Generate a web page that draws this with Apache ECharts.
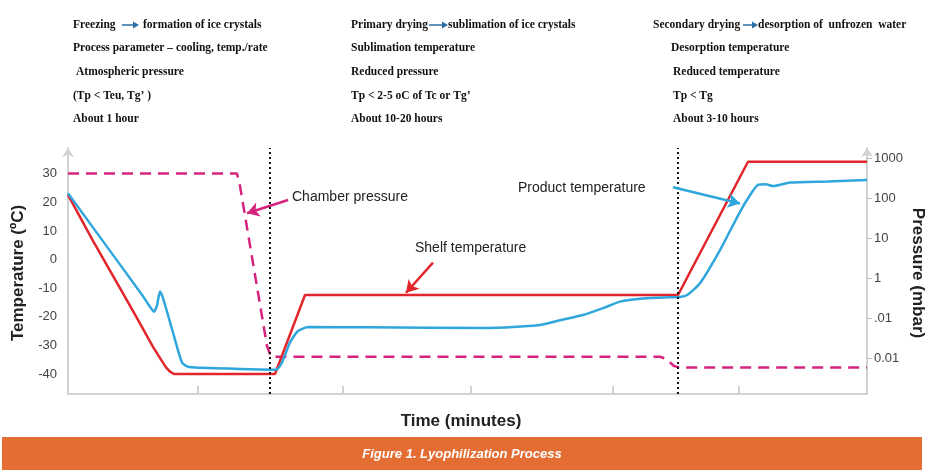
<!DOCTYPE html>
<html>
<head>
<meta charset="utf-8">
<script src="https://cdn.jsdelivr.net/npm/echarts@6/dist/echarts.min.js"></script>
<style>
  html, body { margin: 0; padding: 0; background: #fff; }
  #chart { width: 927px; height: 470px; }
</style>
</head>
<body>
<div id="chart"></div>
<script>
// time axis is in arbitrary minutes (no labels in the figure)
const timeTicks = [130, 275, 403, 545, 671]
const phaseLines = [202, 610]

const tempTicks = [-40, -30, -20, -10, 0, 10, 20, 30]
const pressTicks = [0, 1, 2, 3, 4, 5]
const pressLabels = ["0.01", ".01", "1", "10", "100", "1000"]

// shelf temperature (°C)
const shelfTime = [0, 25, 52, 69, 85, 93, 98, 102, 106, 207, 237, 610, 680, 799]
const shelfTemp = [22.6, 6.5, -10, -20.5, -30.5, -35, -37.7, -39.2, -40, -40, -12.4, -12.4, 34.2, 34.2]

// product temperature (°C)
const prodTime = [0, 40, 75, 82, 86, 89, 92, 95, 105, 114, 120, 132, 208, 214, 222, 230, 240, 300, 420, 470, 492, 515, 535, 552, 575, 600, 612, 620, 632, 652, 672, 682, 690, 698, 705, 722, 760, 799]
const prodTemp = [23.2, 4, -12.8, -16.5, -18.2, -16, -11.2, -13.5, -25.5, -36, -37.5, -37.8, -38.5, -36, -29, -25, -23.6, -23.7, -23.9, -23, -21.2, -19.4, -17, -14.7, -13.6, -13.2, -13.1, -12.2, -8.3, 3.3, 16.7, 22.5, 26.1, 26.3, 25.7, 26.9, 27.3, 27.8]

// chamber pressure, in steps of the right-hand scale (0 = "0.01" ... 5 = "1000")
const pressTime = [0, 169, 172, 199, 203, 592, 598, 606, 612, 799]
const pressLevel = [4.61, 4.61, 4.3, 0.3, 0.03, 0.03, -0.02, -0.2, -0.24, -0.24]

const RED = "#e2262c"
const BLUE = "#30a7dc"
const MAGENTA = "#d6237f"
const GREY = "#d2d2d2"
const ARROW_BLUE = "#2b6fa6"

const pairs = (xs, ys) => xs.map((x, i) => [x, ys[i]])

// header text block
const headFont = { fontFamily: "Liberation Serif", fontWeight: "bold", fontSize: 11.5, fill: "#111" }
const rowsY = [25, 48, 72, 96, 119]
const headText = (x, y, text) => ({
  type: "text", x: x, y: y, silent: true,
  style: Object.assign({ text: text, verticalAlign: "middle" }, headFont)
})
const headArrow = (x1, x2, y) => ([
  { type: "line", silent: true, shape: { x1: x1, y1: y, x2: x2 - 5, y2: y }, style: { stroke: ARROW_BLUE, lineWidth: 1.5 } },
  { type: "polygon", silent: true, shape: { points: [[x2 - 6, y - 3.5], [x2, y], [x2 - 6, y + 3.5]] }, style: { fill: ARROW_BLUE } }
])

const graphics = [
  headText(73, rowsY[0], "Freezing"),
  ...headArrow(122, 139, rowsY[0]),
  headText(143, rowsY[0], "formation of ice crystals"),
  headText(73, rowsY[1], "Process parameter – cooling, temp./rate"),
  headText(76, rowsY[2], "Atmospheric pressure"),
  headText(73, rowsY[3], "(Tp < Teu, Tg’ )"),
  headText(73, rowsY[4], "About 1 hour"),

  headText(351, rowsY[0], "Primary drying"),
  ...headArrow(429, 448, rowsY[0]),
  headText(448, rowsY[0], "sublimation of ice crystals"),
  headText(351, rowsY[1], "Sublimation temperature"),
  headText(351, rowsY[2], "Reduced pressure"),
  headText(351, rowsY[3], "Tp < 2-5 oC of Tc or Tg’"),
  headText(351, rowsY[4], "About 10-20 hours"),

  headText(653, rowsY[0], "Secondary drying"),
  ...headArrow(743, 758, rowsY[0]),
  headText(758, rowsY[0], "desorption of  unfrozen  water"),
  headText(671, rowsY[1], "Desorption temperature"),
  headText(673, rowsY[2], "Reduced temperature"),
  headText(673, rowsY[3], "Tp < Tg"),
  headText(673, rowsY[4], "About 3-10 hours"),

  // annotations
  { type: "text", x: 292, y: 197, silent: true, style: { text: "Chamber pressure", fontFamily: "Liberation Sans", fontSize: 14, fill: "#222", verticalAlign: "middle" } },
  { type: "text", x: 415, y: 248, silent: true, style: { text: "Shelf temperature", fontFamily: "Liberation Sans", fontSize: 14, fill: "#222", verticalAlign: "middle" } },
  { type: "text", x: 518, y: 188, silent: true, style: { text: "Product temperature", fontFamily: "Liberation Sans", fontSize: 14, fill: "#222", verticalAlign: "middle" } },

  // axis titles
  { type: "text", x: 18, y: 273, rotation: Math.PI / 2, silent: true, style: { text: "Temperature (ºC)", fontFamily: "Liberation Sans", fontWeight: "bold", fontSize: 17, fill: "#222", align: "center", verticalAlign: "middle" } },
  { type: "text", x: 918, y: 273, rotation: -Math.PI / 2, silent: true, style: { text: "Pressure (mbar)", fontFamily: "Liberation Sans", fontWeight: "bold", fontSize: 17, fill: "#222", align: "center", verticalAlign: "middle" } },
  { type: "text", x: 461, y: 421, silent: true, style: { text: "Time (minutes)", fontFamily: "Liberation Sans", fontWeight: "bold", fontSize: 17, fill: "#222", align: "center", verticalAlign: "middle" } },

  // caption banner
  { type: "rect", silent: true, shape: { x: 2, y: 437, width: 920, height: 33 }, style: { fill: "#e46d34" } },
  { type: "text", x: 462, y: 454, silent: true, style: { text: "Figure 1. Lyophilization Process", fontFamily: "'Liberation Sans Narrow', 'Liberation Sans', sans-serif", fontStyle: "italic", fontWeight: "bold", fontSize: 13, fill: "#fff", align: "center", verticalAlign: "middle" } }
]

const arrowLine = (from, to, color) => ({
  symbol: ["none", "arrow"],
  symbolSize: [11, 12],
  silent: true,
  label: { show: false },
  lineStyle: { type: "solid", width: 2.5, color: color },
  data: [[{ coord: from }, { coord: to }]]
})

const myChart = echarts.init(document.getElementById("chart"))

const option = {
  animation: false,
  backgroundColor: "#fff",
  grid: { left: 68, right: 60, top: 148, bottom: 76 },
  xAxis: {
    type: "value",
    min: 0,
    max: 799,
    axisLine: { onZero: false, lineStyle: { color: GREY, width: 2 } },
    axisTick: { show: true, inside: true, length: 8, customValues: timeTicks, lineStyle: { color: GREY, width: 2 } },
    axisLabel: { show: false },
    splitLine: { show: false }
  },
  yAxis: [
    {
      type: "value",
      position: "left",
      min: -47,
      max: 39,
      axisLine: { show: true, onZero: false, symbol: ["none", "arrow"], symbolSize: [9, 9], lineStyle: { color: GREY, width: 2 } },
      axisTick: { show: false },
      axisLabel: { customValues: tempTicks, color: "#444", fontSize: 13, fontFamily: "Liberation Sans", margin: 11 },
      splitLine: { show: false }
    },
    {
      type: "value",
      position: "right",
      min: -0.9,
      max: 5.25,
      axisLine: { show: true, onZero: false, symbol: ["none", "arrow"], symbolSize: [9, 9], lineStyle: { color: GREY, width: 2 } },
      axisTick: { show: true, customValues: pressTicks, length: 5, lineStyle: { color: "#bbb", width: 1 } },
      axisLabel: {
        customValues: pressTicks,
        color: "#444",
        fontSize: 13,
        fontFamily: "Liberation Sans",
        margin: 7,
        formatter: (v) => pressLabels[pressTicks.indexOf(Math.round(v))]
      },
      splitLine: { show: false }
    }
  ],
  graphic: graphics,
  series: [
    {
      name: "Chamber pressure",
      type: "line",
      yAxisIndex: 1,
      data: pairs(pressTime, pressLevel),
      showSymbol: false,
      lineStyle: { color: MAGENTA, width: 2.5, type: [11, 7] },
      markLine: arrowLine([220, 3.95], [179, 3.62], MAGENTA),
      z: 2
    },
    {
      name: "Shelf temperature",
      type: "line",
      data: pairs(shelfTime, shelfTemp),
      showSymbol: false,
      lineStyle: { color: RED, width: 2.5 },
      markLine: {
        symbol: "none",
        silent: true,
        label: { show: false },
        lineStyle: { type: [2, 3], color: "#111", width: 2 },
        data: phaseLines.map((t) => ({ xAxis: t }))
      },
      z: 3
    },
    {
      name: "Shelf arrow",
      type: "line",
      data: [],
      markLine: arrowLine([365, -1.1], [338, -11.6], RED)
    },
    {
      name: "Product temperature",
      type: "line",
      data: pairs(prodTime, prodTemp),
      showSymbol: false,
      smooth: 0.2,
      lineStyle: { color: BLUE, width: 2.5 },
      markLine: arrowLine([605, 25.3], [672, 19.6], BLUE),
      z: 4
    }
  ]
}

myChart.setOption(option)
window.addEventListener("resize", () => {
  myChart.resize()
})
</script>
</body>
</html>
